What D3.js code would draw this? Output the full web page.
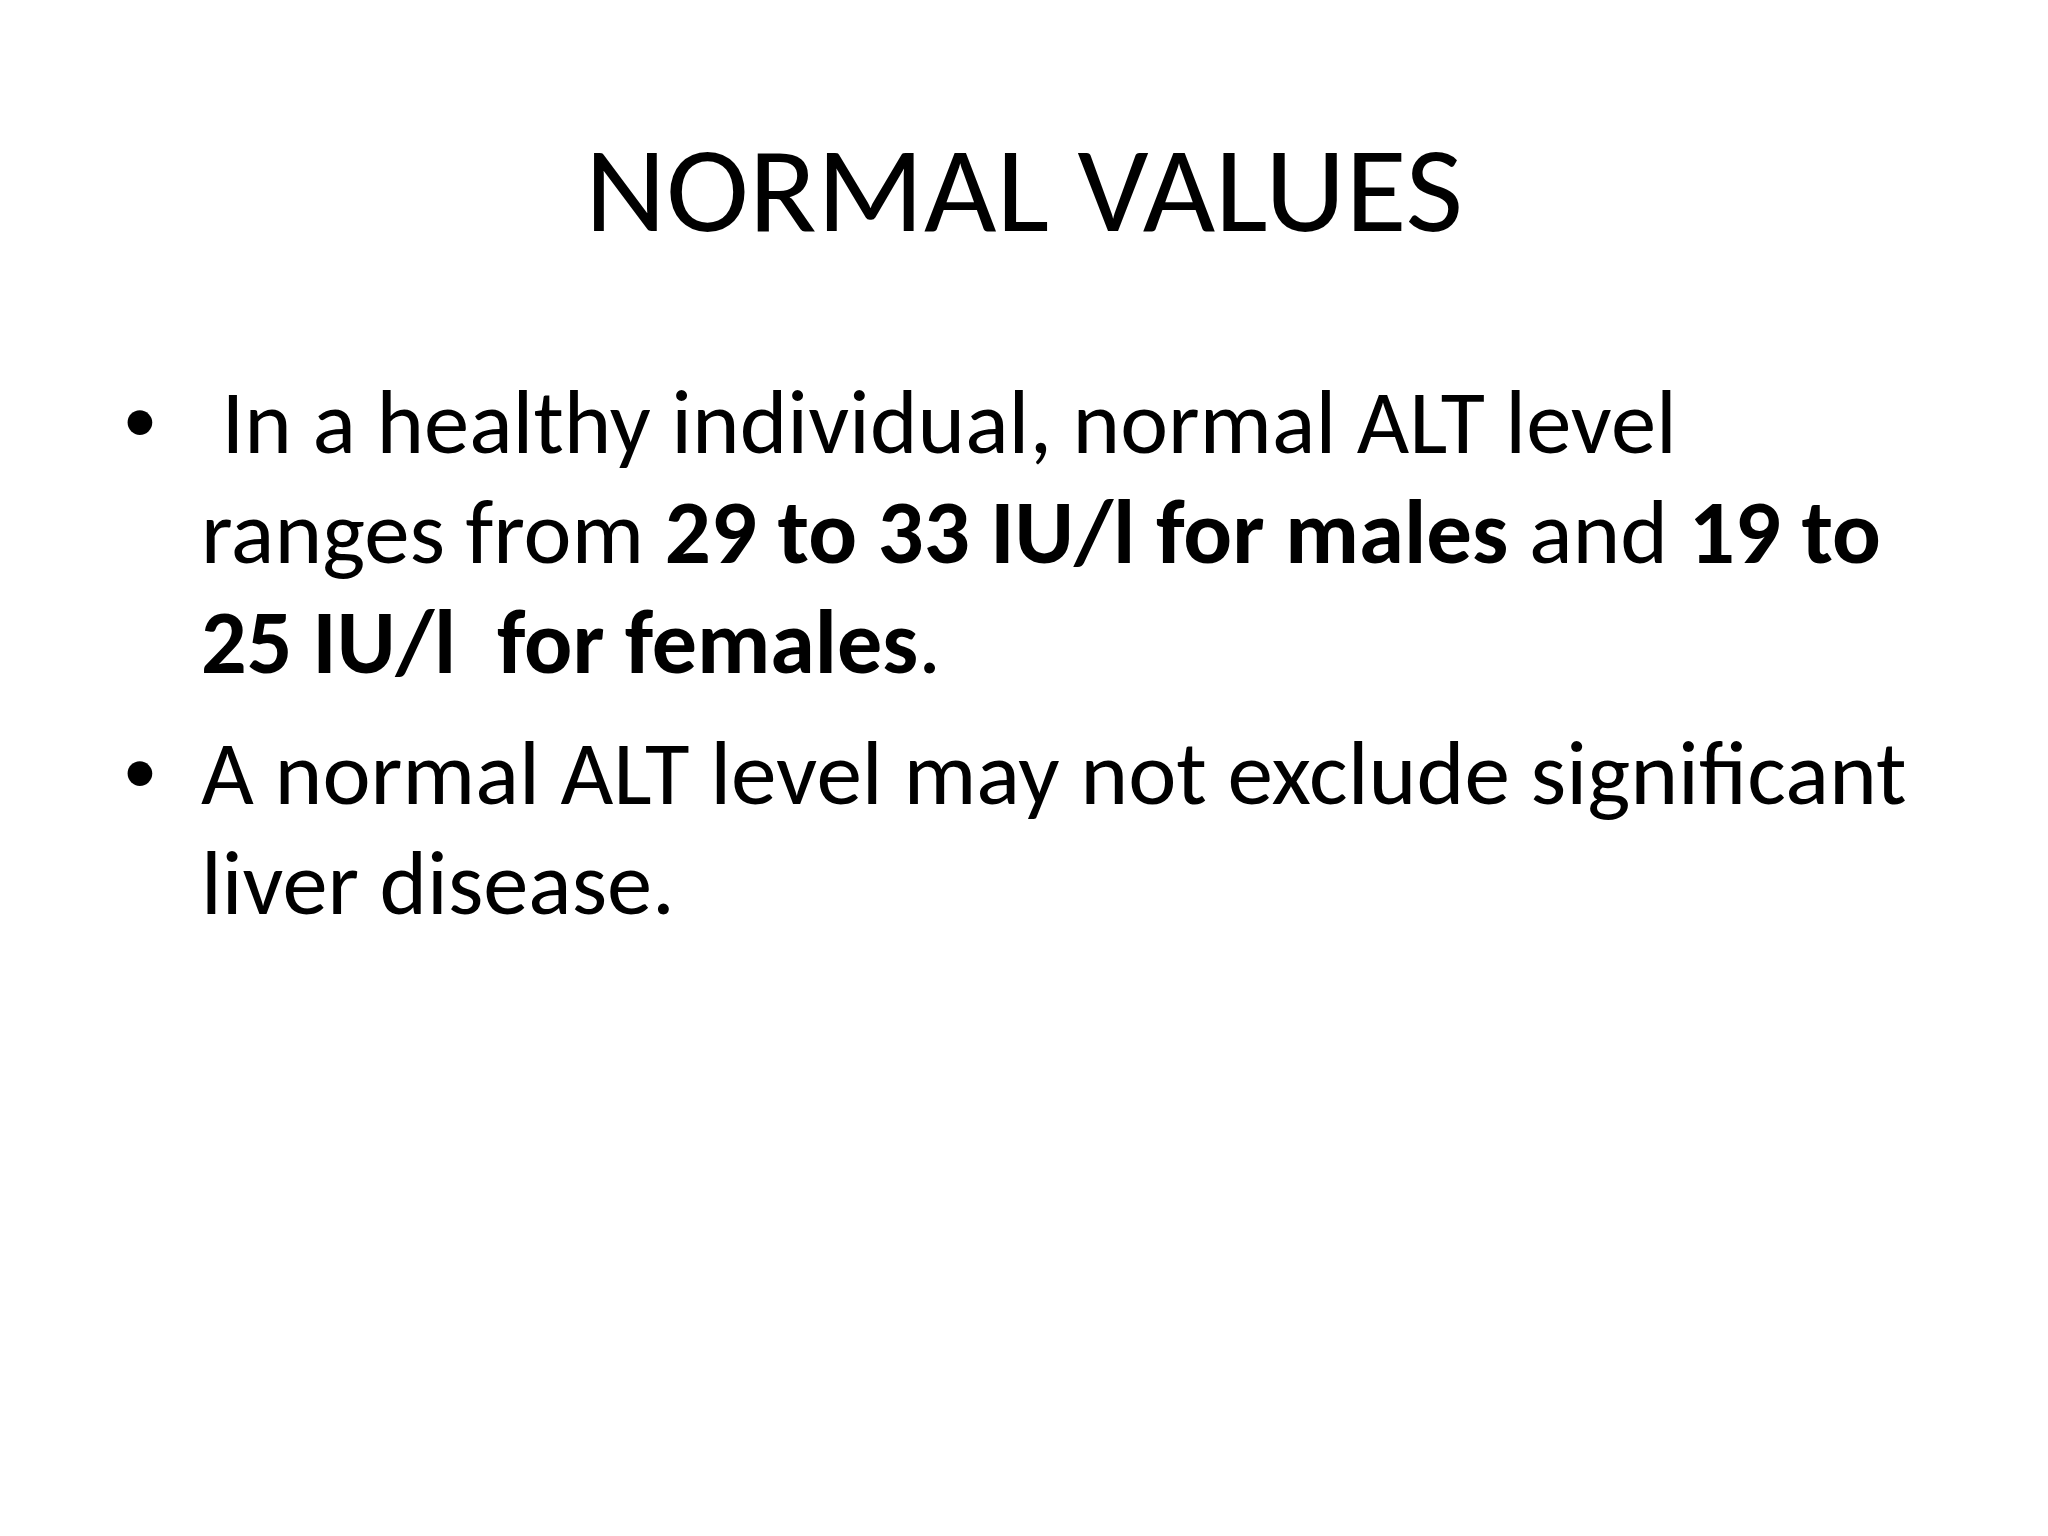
<!DOCTYPE html>
<html>
<head>
<meta charset="utf-8">
<script src="https://cdn.jsdelivr.net/npm/d3@7"></script>
<style>
  html, body { margin: 0; padding: 0; background: #fff; }
  text { white-space: pre; }
</style>
</head>
<body>
<div id="canvas"></div>
<script>
// -------------------------------------------- Data
const titleText = "NORMAL VALUES";

// each bullet = list of lines, each line = list of [text, bold]
const bullet1 = [
  [[" In a healthy individual, normal ALT level", false]],
  [["ranges from ", false], ["29 to 33 IU/l for males", true], [" and ", false], ["19 to", true]],
  [["25 IU/l  for females", true], [".", false]]
];
const bullet2 = [
  [["A normal ALT level may not exclude significant", false]],
  [["liver disease.", false]]
];
const bullets = [bullet1, bullet2];

// -------------------------------------------- Dimensiones
const width = 2048;
const height = 1536;
const font = "Carlito, Calibri, 'Open Sans', 'Noto Sans', sans-serif";

// measured widths of each line in the slide (px)
const lineWidths = [[1476, 1680, 740], [1706, 474]];
const titleWidth = 878;

const svg = d3.select("#canvas").append("svg")
  .attr("width", width)
  .attr("height", height);

svg.append("rect").attr("width", width).attr("height", height).attr("fill", "#fff");

// ----- scale horizontally so a line fits its width
function fitLine(sel, x0, w) {
  const bb = sel.node().getBBox();
  const sx = w / bb.width;
  sel.attr("transform", `translate(${x0},0) scale(${sx},1) translate(${-x0},0)`);
}

// ----- Titulo
const title = svg.append("text")
  .attr("x", width / 2)
  .attr("y", 231)
  .attr("text-anchor", "middle")
  .style("font-family", font)
  .style("font-size", "122px")
  .attr("fill", "#000")
  .text(titleText);
fitLine(title, width / 2, titleWidth);

// ----- Bullets
const lineHeight = 110;
const paraGap = 21;
const textX = 201;
const bulletX = 124;
let baseline = 453;

bullets.forEach((lines, bi) => {
  svg.append("text")
    .attr("x", bulletX)
    .attr("y", baseline)
    .style("font-family", "Arial, 'Liberation Sans', sans-serif")
    .style("font-size", "91px")
    .attr("fill", "#000")
    .text("\u2022");

  lines.forEach((segs, li) => {
    const t = svg.append("text")
      .attr("x", textX)
      .attr("y", baseline)
      .style("font-family", font)
      .style("font-size", "91px")
      .attr("fill", "#000");
    t.selectAll("tspan")
      .data(segs)
      .enter()
      .append("tspan")
      .style("font-weight", (d) => (d[1] ? "bold" : "normal"))
      .text((d) => d[0]);
    fitLine(t, textX, lineWidths[bi][li]);
    baseline += lineHeight;
  });
  baseline += paraGap;
});
</script>
</body>
</html>
